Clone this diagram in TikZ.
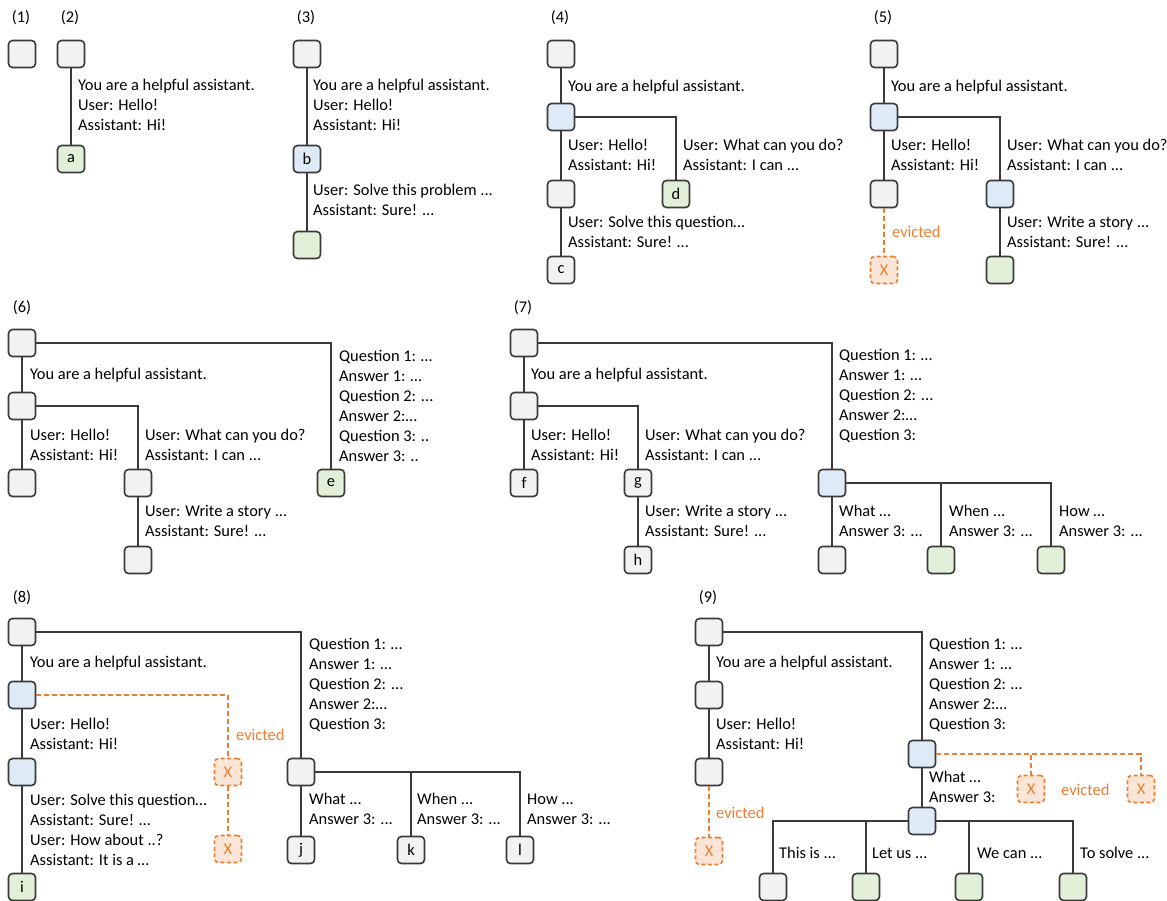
\documentclass[tikz,border=0pt]{standalone}
\usepackage{fontspec}
\setmainfont{Carlito}
\definecolor{boxline}{HTML}{3A3A3A}
\definecolor{fillg}{HTML}{F2F2F2}
\definecolor{fillb}{HTML}{DEEBF7}
\definecolor{filln}{HTML}{E2F0D9}
\definecolor{evorange}{HTML}{ED7D31}
\definecolor{fillx}{HTML}{FBE5D6}
\tikzset{kv/.style = {draw=boxline, line width=1.6pt, rounded corners=4pt, minimum size=27pt, inner sep=0pt},
         boxg/.style = {kv, fill=fillg},
         boxb/.style = {kv, fill=fillb},
         boxn/.style = {kv, fill=filln},
         boxx/.style = {kv, draw=evorange, fill=fillx, text=evorange, dash pattern=on 4pt off 2.5pt},
         txt/.style = {anchor=west, align=left, inner sep=0pt},
         link/.style = {draw=boxline, line width=1.7pt},
         evict/.style = {draw=evorange, line width=1.7pt, dash pattern=on 5pt off 3pt},
         evtxt/.style = {anchor=west, inner sep=0pt, text=evorange}}

\begin{document}
\begin{tikzpicture}[x=1pt, y=-1pt, font=\fontsize{16.4}{20}\selectfont]
        \useasboundingbox (0,0) rectangle (1167,900);

        % (1) - (3)
        \node (l1) at (21,18) {(1)};
        \node[boxg] (p1r) at (22,54) {};

        \node (l2) at (70,18) {(2)};
        \node[boxg] (p2r) at (71,54) {};
        \node[boxn] (p2a) at (71,159) {a};
        \draw[link] (p2r) -- (p2a);
        \node[txt] (t2a) at (78,105) {You are a helpful assistant.\\User: Hello!\\Assistant: Hi!};

        \node (l3) at (306,18) {(3)};
        \node[boxg] (p3r) at (307,54) {};
        \node[boxb] (p3b) at (307,159) {b};
        \node[boxn] (p3n) at (307,245) {};
        \draw[link] (p3r) -- (p3b);
        \draw[link] (p3b) -- (p3n);
        \node[txt] (t3a) at (313,105) {You are a helpful assistant.\\User: Hello!\\Assistant: Hi!};
        \node[txt] (t3b) at (313,200) {User: Solve this problem ...\\Assistant: Sure! ...};

        % (4)
        \node (l4) at (560,18) {(4)};
        \node[boxg] (p4r) at (561,54) {};
        \node[boxb] (p4b) at (561,117) {};
        \node[boxg] (p4m) at (561,194) {};
        \node[boxn] (p4d) at (676,194) {d};
        \node[boxg] (p4c) at (561,270) {c};
        \draw[link] (p4r) -- (p4b);
        \draw[link] (p4b) -- (p4m);
        \draw[link] (p4m) -- (p4c);
        \draw[link] (p4b.east) -| (p4d);
        \node[txt] (t4a) at (568,87) {You are a helpful assistant.};
        \node[txt] (t4b) at (568,155) {User: Hello!\\Assistant: Hi!};
        \node[txt] (t4c) at (683,155) {User: What can you do?\\Assistant: I can ...};
        \node[txt] (t4d) at (568,232) {User: Solve this question…\\Assistant: Sure! …};

        % (5)
        \node (l5) at (883,18) {(5)};
        \node[boxg] (p5r) at (884,54) {};
        \node[boxb] (p5b) at (884,117) {};
        \node[boxg] (p5m) at (884,194) {};
        \node[boxb] (p5s) at (1000,194) {};
        \node[boxx] (p5x) at (884,270) {X};
        \node[boxn] (p5n) at (1000,270) {};
        \draw[link] (p5r) -- (p5b);
        \draw[link] (p5b) -- (p5m);
        \draw[link] (p5b.east) -| (p5s);
        \draw[link] (p5s) -- (p5n);
        \draw[evict] (p5m) -- (p5x);
        \node[txt] (t5a) at (891,87) {You are a helpful assistant.};
        \node[txt] (t5b) at (891,155) {User: Hello!\\Assistant: Hi!};
        \node[txt] (t5c) at (1007,155) {User: What can you do?\\Assistant: I can ...};
        \node[txt] (t5d) at (1007,232) {User: Write a story ...\\Assistant: Sure! ...};
        \node[evtxt] (e5) at (892,232) {evicted};

        % (6)
        \node (l6) at (22,308) {(6)};
        \node[boxg] (p6r) at (22,343) {};
        \node[boxg] (p6s) at (22,406) {};
        \node[boxg] (p6m) at (22,483) {};
        \node[boxg] (p6w) at (138,483) {};
        \node[boxg] (p6v) at (138,560) {};
        \node[boxn] (p6e) at (331,483) {e};
        \draw[link] (p6r) -- (p6s);
        \draw[link] (p6s) -- (p6m);
        \draw[link] (p6s.east) -| (p6w);
        \draw[link] (p6w) -- (p6v);
        \draw[link] (p6r.east) -| (p6e);
        \node[txt] (t6a) at (30,375) {You are a helpful assistant.};
        \node[txt] (t6b) at (30,445) {User: Hello!\\Assistant: Hi!};
        \node[txt] (t6c) at (145,445) {User: What can you do?\\Assistant: I can ...};
        \node[txt] (t6d) at (145,521) {User: Write a story ...\\Assistant: Sure! ...};
        \node[txt] (t6q) at (339,406) {Question 1: …\\Answer 1: …\\Question 2: ...\\Answer 2:…\\Question 3: ..\\Answer 3: ..};

        % (7)
        \node (l7) at (523,308) {(7)};
        \node[boxg] (p7r) at (524,343) {};
        \node[boxg] (p7s) at (524,406) {};
        \node[boxg] (p7f) at (524,483) {f};
        \node[boxg] (p7g) at (638,483) {g};
        \node[boxg] (p7h) at (638,560) {h};
        \node[boxb] (p7q) at (832,483) {};
        \node[boxg] (p7c1) at (832,560) {};
        \node[boxn] (p7c2) at (941,560) {};
        \node[boxn] (p7c3) at (1051,560) {};
        \draw[link] (p7r) -- (p7s);
        \draw[link] (p7s) -- (p7f);
        \draw[link] (p7s.east) -| (p7g);
        \draw[link] (p7g) -- (p7h);
        \draw[link] (p7r.east) -| (p7q);
        \draw[link] (p7q) -- (p7c1);
        \draw[link] (p7q.east) -| (p7c2);
        \draw[link] (p7q.east) -| (p7c3);
        \node[txt] (t7a) at (531,375) {You are a helpful assistant.};
        \node[txt] (t7b) at (531,445) {User: Hello!\\Assistant: Hi!};
        \node[txt] (t7c) at (645,445) {User: What can you do?\\Assistant: I can ...};
        \node[txt] (t7d) at (645,521) {User: Write a story ...\\Assistant: Sure! ...};
        \node[txt] (t7q) at (839,396) {Question 1: …\\Answer 1: …\\Question 2: ...\\Answer 2:…\\Question 3:};
        \node[txt] (t7e) at (839,521) {What …\\Answer 3: ...};
        \node[txt] (t7f) at (949,521) {When ...\\Answer 3: ...};
        \node[txt] (t7g) at (1059,521) {How …\\Answer 3: ...};

        % (8)
        \node (l8) at (22,598) {(8)};
        \node[boxg] (p8r) at (22,632) {};
        \node[boxb] (p8b) at (22,695) {};
        \node[boxb] (p8s) at (22,772) {};
        \node[boxn] (p8i) at (22,887) {i};
        \node[boxx] (p8x1) at (228,772) {X};
        \node[boxx] (p8x2) at (228,849) {X};
        \node[boxg] (p8q) at (301,772) {};
        \node[boxg] (p8j) at (301,850) {j};
        \node[boxg] (p8k) at (411,850) {k};
        \node[boxg] (p8l) at (520,850) {l};
        \draw[link] (p8r) -- (p8b);
        \draw[link] (p8b) -- (p8s);
        \draw[link] (p8s) -- (p8i);
        \draw[evict] (p8b.east) -| (p8x1);
        \draw[evict] (p8x1) -- (p8x2);
        \draw[link] (p8r.east) -| (p8q);
        \draw[link] (p8q) -- (p8j);
        \draw[link] (p8q.east) -| (p8k);
        \draw[link] (p8q.east) -| (p8l);
        \node[txt] (t8a) at (30,663) {You are a helpful assistant.};
        \node[txt] (t8b) at (30,734) {User: Hello!\\Assistant: Hi!};
        \node[txt] (t8c) at (30,830) {User: Solve this question…\\Assistant: Sure! …\\User: How about ..?\\Assistant: It is a …};
        \node[evtxt] (e8) at (236,735) {evicted};
        \node[txt] (t8q) at (309,685) {Question 1: …\\Answer 1: …\\Question 2: ...\\Answer 2:…\\Question 3:};
        \node[txt] (t8e) at (309,809) {What ...\\Answer 3: ...};
        \node[txt] (t8f) at (417,809) {When ...\\Answer 3: ...};
        \node[txt] (t8g) at (527,809) {How ...\\Answer 3: ...};

        % (9)
        \node (l9) at (708,598) {(9)};
        \node[boxg] (p9r) at (709,632) {};
        \node[boxg] (p9s) at (709,695) {};
        \node[boxg] (p9m) at (709,772) {};
        \node[boxx] (p9x) at (709,851) {X};
        \node[boxb] (p9q) at (922,754) {};
        \node[boxx] (p9x1) at (1031,789) {X};
        \node[boxx] (p9x2) at (1141,789) {X};
        \node[boxb] (p9w) at (922,821) {};
        \node[boxg] (p9c1) at (773,887) {};
        \node[boxn] (p9c2) at (866,887) {};
        \node[boxn] (p9c3) at (969,887) {};
        \node[boxn] (p9c4) at (1073,887) {};
        \draw[link] (p9r) -- (p9s);
        \draw[link] (p9s) -- (p9m);
        \draw[evict] (p9m) -- (p9x);
        \draw[link] (p9r.east) -| (p9q);
        \draw[link] (p9q) -- (p9w);
        \draw[evict] (p9q.east) -| (p9x1);
        \draw[evict] (p9q.east) -| (p9x2);
        \draw[link] (p9w.west) -| (p9c1);
        \draw[link] (p9w.west) -| (p9c2);
        \draw[link] (p9w.east) -| (p9c3);
        \draw[link] (p9w.east) -| (p9c4);
        \node[txt] (t9a) at (716,663) {You are a helpful assistant.};
        \node[txt] (t9b) at (716,734) {User: Hello!\\Assistant: Hi!};
        \node[evtxt] (e9a) at (716,813) {evicted};
        \node[txt] (t9q) at (929,685) {Question 1: …\\Answer 1: …\\Question 2: …\\Answer 2:…\\Question 3:};
        \node[txt] (t9e) at (929,787) {What …\\Answer 3:};
        \node[evtxt] (e9b) at (1061,790) {evicted};
        \node[txt] (t9c1) at (779,853) {This is ...};
        \node[txt] (t9c2) at (872,853) {Let us ...};
        \node[txt] (t9c3) at (977,853) {We can ...};
        \node[txt] (t9c4) at (1080,853) {To solve ...};
    \end{tikzpicture}
\end{document}
